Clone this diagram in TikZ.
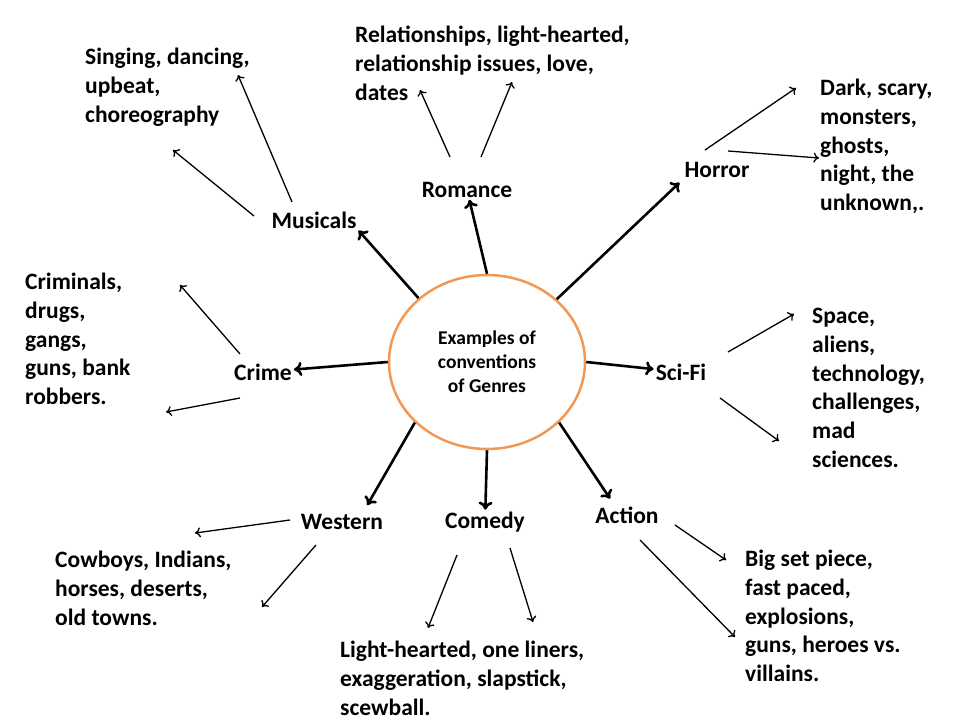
\documentclass[tikz,border=0pt]{standalone}
\usepackage{fontspec}
\setmainfont{Carlito}
\usetikzlibrary{positioning}
\usetikzlibrary{shapes.geometric}
\usetikzlibrary{arrows.meta}
\definecolor{hubline}{RGB}{243,152,84}
\tikzset{main node/.style={shape=ellipse,
    draw=hubline, line width=2.5pt, align=center,
    minimum width=196pt, minimum height=174pt, inner sep=0pt,
    font=\bfseries\fontsize{19.5}{24}\selectfont}}
\tikzset{genre node/.style={inner sep=2pt,
    font=\bfseries\fontsize{23.5}{28.7}\selectfont}}
\tikzset{text node/.style={anchor=north west, inner sep=0pt, align=left,
    font=\bfseries\fontsize{23.5}{28.7}\selectfont}}
\tikzset{big arrow/.style={line width=2.6pt, -{To[length=8pt,width=14pt]}}}
\tikzset{small arrow/.style={line width=1.3pt, -{To[length=5.5pt,width=10pt]}}}

\begin{document}
\begin{tikzpicture}[x=1pt,y=-1pt]
    \useasboundingbox (0,0) rectangle (960,720);

    \node[main node] (0) at (487,362) {Examples of\\conventions\\of Genres};

    \node[genre node] (1) at (467,190) {Romance};
    \node[genre node] (2) at (314,220) {Musicals};
    \node[genre node] (3) at (717,170) {Horror};
    \node[genre node] (4) at (263,372) {Crime};
    \node[genre node] (5) at (681,372) {Sci-Fi};
    \node[genre node] (6) at (342,522) {Western};
    \node[genre node] (7) at (485,522) {Comedy};
    \node[genre node] (8) at (627,515) {Action};

    \node[text node] (11) at (355,26) {Relationships, light-hearted,\\relationship issues, love,\\dates};
    \node[text node] (12) at (85,48) {Singing, dancing,\\upbeat,\\choreography};
    \node[text node] (13) at (820,79) {Dark, scary,\\monsters,\\ghosts,\\night, the\\unknown,.};
    \node[text node] (14) at (25,273) {Criminals,\\drugs,\\gangs,\\guns, bank\\robbers.};
    \node[text node] (15) at (812,308) {Space,\\aliens,\\technology,\\challenges,\\mad\\sciences.};
    \node[text node] (16) at (55,551) {Cowboys, Indians,\\horses, deserts,\\old towns.};
    \node[text node] (17) at (340,641) {Light-hearted, one liners,\\exaggeration, slapstick,\\scewball.};
    \node[text node] (18) at (745,550) {Big set piece,\\fast paced,\\explosions,\\guns, heroes vs.\\villains.};

    % hub to genres
    \path[big arrow]
    (0.90) edge (1)
    (0.137) edge (2.south east)
    (0.42) edge[shorten >=4pt] (3.south west)
    (0.180) edge (4)
    (0.0) edge (5)
    (0.220) edge[shorten >=8pt] (6.25)
    (0.270) edge (7)
    (0.-40) edge[shorten >=7pt] (8.141)
    ;

    % ends of the small arrows
    \foreach \n/\xa/\ya/\xb/\yb in {
        1a/450/157/420/90, 1b/481/157/512/82,
        2a/254/216/173/150, 2b/292/202/238/75,
        3a/705/150/796/88, 3b/728/151/819/158,
        4a/240/354/180/285, 4b/240/398/166/412,
        5a/728/352/794/314, 5b/720/398/779/441,
        6a/290/520/195/533, 6b/316/545/262/607,
        7a/457/555/428/628, 7b/510/548/533/622,
        8a/675/525/726/560, 8b/640/540/735/637}
    {
        \coordinate (s\n) at (\xa,\ya);
        \coordinate (e\n) at (\xb,\yb);
        \draw[small arrow] (s\n) -- (e\n);
    }
\end{tikzpicture}
\end{document}
